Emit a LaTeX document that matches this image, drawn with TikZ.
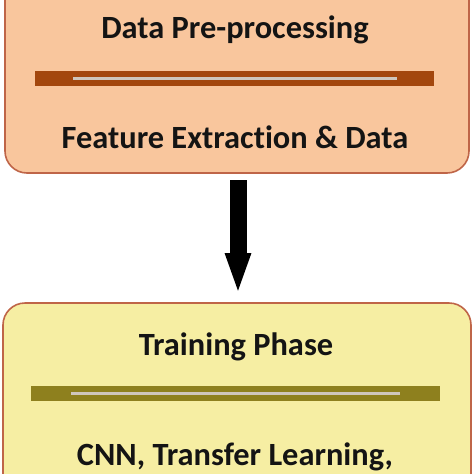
\documentclass[tikz,border=0pt]{standalone}
\usepackage{fontspec}
\setmainfont{Carlito}[Ligatures=NoCommon]
\usetikzlibrary{arrows.meta}
\definecolor{peach}{HTML}{F9C69D}
\definecolor{pale}{HTML}{F6EEA3}
\definecolor{rim}{HTML}{BF6548}
\definecolor{brownbar}{HTML}{A3470E}
\definecolor{olivebar}{HTML}{8E801E}
\definecolor{glint}{HTML}{CFC6BC}
\tikzset{
  phasebox/.style={draw=rim, line width=1.6pt, rounded corners=22pt, inner sep=0pt},
  label/.style={font=\fontsize{32.4}{36}\selectfont\bfseries, text=black!92, anchor=base, inner sep=0pt},
}
\begin{document}
\begin{tikzpicture}[x=1pt,y=-1pt]
\useasboundingbox (0,0) rectangle (474,474);
\clip (0,0) rectangle (474,474);
\node[phasebox, fill=peach, minimum width=464pt, minimum height=203pt] (top) at (237,71.5) {};
\node[phasebox, fill=pale, minimum width=468pt, minimum height=217pt] (bottom) at (237,411.5) {};
% separators
\fill[brownbar] (35,71) rectangle (434,86);
\draw[glint, line width=2.5pt] (73,78.5) -- (397,78.5);
\fill[olivebar] (31,386) rectangle (440,401);
\draw[glint, line width=2.5pt] (71,393.5) -- (400,393.5);
% texts
\node[label] (t1) at (235,38) {Data Pre-processing};
\node[label] (t2) at (235,148) {Feature Extraction \& Data};
\node[label] (t3) at (236,355) {Training Phase};
\node[label] (t4) at (235,465) {CNN, Transfer Learning,};
% arrow
\coordinate (a1) at (238,173);
\coordinate (a2) at (238,303);
\draw[black, line width=17pt, -{Triangle[length=42pt,width=23pt]}, shorten <=7pt, shorten >=8pt] (a1) -- (a2);
\end{tikzpicture}
\end{document}
